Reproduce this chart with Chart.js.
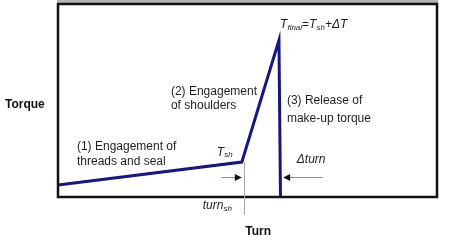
<!DOCTYPE html>
<html>
<head>
<meta charset="utf-8">
<script src="https://cdn.jsdelivr.net/npm/chart.js@4.4.0/dist/chart.umd.min.js"></script>
<style>
html,body{margin:0;padding:0;background:#fff;}
#wrap{width:474px;height:248px;}
</style>
</head>
<body>
<div id="wrap"><canvas id="c" width="474" height="248"></canvas></div>
<script>
// Data (turn vs torque, arbitrary units 0-100)
const turnValues = [0, 48.5, 58.3, 58.7];
const torqueValues = [6.2, 18.1, 81.2, 0];
const xLabel = 'Turn';
const yLabel = 'Torque';

const FONT = '"Liberation Sans", Arial, sans-serif';
const TXT = '#1e1e1e';

// text annotations in data coordinates
const notes = [
  {x: 5.0, y: 26.1, runs: [{t: '(1) Engagement of'}]},
  {x: 5.0, y: 18.3, runs: [{t: 'threads and seal'}]},
  {x: 29.8, y: 54.6, runs: [{t: '(2) Engagement'}]},
  {x: 29.8, y: 47.2, runs: [{t: 'of shoulders'}]},
  {x: 60.4, y: 50.0, runs: [{t: '(3) Release of'}]},
  {x: 60.4, y: 40.5, runs: [{t: 'make-up torque'}]},
  {x: 41.9, y: 23.0, runs: [{t: 'T', it: true}, {t: 'sh', it: true, sub: true}]},
  {x: 63.0, y: 19.2, runs: [{t: '\u0394turn', it: true}]},
  {x: 38.2, y: -4.7, runs: [{t: 'turn', it: true}, {t: 'sh', it: true, sub: true}]},
  {x: 58.6, y: 89.1, runs: [{t: 'T', it: true}, {t: 'final', it: true, sub: true}, {t: '=', it: false},
                              {t: 'T', it: true}, {t: 'sh', it: true, sub: true}, {t: '+\u0394T', it: true}]}
];

const frameAndNotes = {
  id: 'frameAndNotes',
  afterDatasetsDraw(chart) {
    const {ctx, chartArea: a, scales: {x, y}} = chart;
    ctx.save();
    // gray band above frame
    ctx.fillStyle = '#b4b4b4';
    ctx.fillRect(a.left - 1, 0, a.right - a.left + 2, a.top - 1);
    // frame
    ctx.strokeStyle = '#111';
    ctx.lineWidth = 2.5;
    ctx.strokeRect(a.left, a.top, a.right - a.left, a.bottom - a.top);

    // thin gray vertical guide at turn_sh
    ctx.strokeStyle = '#a8a8a8';
    ctx.lineWidth = 1;
    const gx = Math.round(x.getPixelForValue(49.0)) + 0.5;
    ctx.beginPath();
    ctx.moveTo(gx, y.getPixelForValue(18.1));
    ctx.lineTo(gx, y.getPixelForValue(-9.3));
    ctx.stroke();

    // arrows
    function arrow(x0, x1, yv) {
      const px0 = x.getPixelForValue(x0), px1 = x.getPixelForValue(x1);
      const py = Math.round(y.getPixelForValue(yv)) + 0.5;
      const dir = Math.sign(px1 - px0);
      ctx.strokeStyle = '#8a8aa8';
      ctx.lineWidth = 1;
      ctx.beginPath();
      ctx.moveTo(px0, py);
      ctx.lineTo(px1 - dir * 6, py);
      ctx.stroke();
      ctx.fillStyle = '#111';
      ctx.beginPath();
      ctx.moveTo(px1, py);
      ctx.lineTo(px1 - dir * 7, py - 3.5);
      ctx.lineTo(px1 - dir * 7, py + 3.5);
      ctx.closePath();
      ctx.fill();
    }
    arrow(43.2, 48.5, 10.2);
    arrow(69.8, 59.4, 10.2);

    // notes
    ctx.fillStyle = TXT;
    ctx.textBaseline = 'middle';
    ctx.textAlign = 'left';
    for (const n of notes) {
      let px = x.getPixelForValue(n.x);
      const py = y.getPixelForValue(n.y);
      for (const r of n.runs) {
        const size = r.sub ? 8 : 12;
        ctx.font = (r.it ? 'italic ' : '') + size + 'px ' + FONT;
        ctx.fillText(r.t, px, py + (r.sub ? 2.5 : 0));
        px += ctx.measureText(r.t).width;
      }
    }

    // axis titles
    ctx.font = 'bold 12px ' + FONT;
    ctx.fillStyle = '#111';
    ctx.textAlign = 'left';
    ctx.fillText(yLabel, 5, y.getPixelForValue(48.0));
    ctx.textAlign = 'center';
    ctx.fillText(xLabel, x.getPixelForValue(52.8), a.bottom + 35);
    ctx.restore();
  }
};

new Chart(document.getElementById('c'), {
  type: 'line',
  data: {
    datasets: [{
      data: turnValues.map((t, i) => ({x: t, y: torqueValues[i]})),
      borderColor: '#15158a',
      borderWidth: 3,
      borderJoinStyle: 'miter',
      pointRadius: 0,
      tension: 0,
      fill: false
    }]
  },
  options: {
    responsive: false,
    animation: false,
    layout: {padding: {left: 58, right: 37, top: 4, bottom: 51}},
    plugins: {legend: {display: false}, tooltip: {enabled: false}},
    scales: {
      x: {type: 'linear', min: 0, max: 100, display: false},
      y: {type: 'linear', min: 0, max: 100, display: false}
    }
  },
  plugins: [frameAndNotes]
});
</script>
</body>
</html>
